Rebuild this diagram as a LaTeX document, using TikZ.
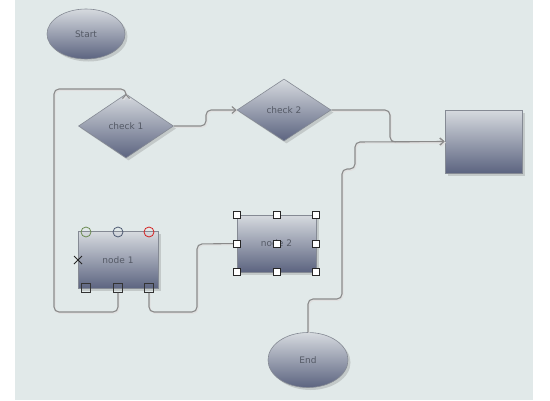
\documentclass[tikz,border=0pt]{standalone}
\usepackage{fontspec}
\setmainfont{DejaVu Sans}
\usetikzlibrary{shapes.geometric,shadows,arrows.meta}
\definecolor{bg}{HTML}{E1E9E9}
\definecolor{ntop}{HTML}{D6DADF}
\definecolor{nbot}{HTML}{5C6480}
\definecolor{nborder}{HTML}{858A94}
\definecolor{txt}{HTML}{555A66}
\definecolor{conncol}{HTML}{8A8A8A}
\definecolor{pgreen}{HTML}{6A8A50}
\definecolor{pslate}{HTML}{4E5A72}
\definecolor{pred}{HTML}{D42020}
\begin{document}
\begin{tikzpicture}[x=1pt,y=-1pt,
  shapenode/.style={top color=ntop,bottom color=nbot,draw=nborder,line width=0.6pt,
    text=txt,font=\fontsize{9}{11}\selectfont,inner sep=0pt,
    drop shadow={shadow xshift=2.5pt,shadow yshift=-2.5pt,opacity=0.3}},
  ellnode/.style={shapenode,ellipse},
  dianode/.style={shapenode,diamond},
  boxnode/.style={shapenode,rectangle},
  conn/.style={draw=conncol,line width=1.1pt,rounded corners=5pt,
    preaction={draw=black!12,line width=1.2pt,transform canvas={shift={(1pt,-1.2pt)}}}},
  arrowconn/.style={conn,-{Straight Barb[length=4pt,width=7pt]}},
  portsq/.style={draw=black!80,line width=0.7pt,rectangle,minimum size=9pt,inner sep=0pt},
  portci/.style={line width=0.8pt,circle,minimum size=10pt,inner sep=0pt},
  handle/.style={draw=black!85,fill=white,line width=0.6pt,rectangle,minimum size=7pt,inner sep=0pt}
]
\useasboundingbox (0,0) rectangle (550,400);
\fill[bg] (15,0) rectangle (533,400);

% nodes
\node[ellnode,minimum width=78pt,minimum height=50pt] (start) at (86,34) {Start};
\node[dianode,minimum width=95pt,minimum height=64pt] (c1) at (126,126) {check 1};
\node[dianode,minimum width=94pt,minimum height=62pt] (c2) at (284,110) {check 2};
\node[boxnode,minimum width=77pt,minimum height=63pt] (r) at (483.5,141.5) {};
\node[boxnode,minimum width=80pt,minimum height=57pt] (n1) at (118,260) {node 1};
\node[boxnode,minimum width=79pt,minimum height=57pt] (n2) at (276.5,243.5) {node 2};
\node[ellnode,minimum width=80pt,minimum height=55pt] (end) at (308,360) {End};

% ports of node 1
\node[portsq] (b1) at (86,288) {};
\node[portsq] (b2) at (118,288) {};
\node[portsq] (b3) at (149,288) {};
\node[portci,draw=pgreen] (t1) at (86,232) {};
\node[portci,draw=pslate] (t2) at (118,232) {};
\node[portci,draw=pred] (t3) at (149,232) {};
\draw[black!85,line width=0.8pt] (74,256) -- (82,264) (74,264) -- (82,256);

% connectors
\draw[arrowconn] (b2.south) -- (118,312) -- (54,312) -- (54,89) -- (126,89) -- (c1.north);
\draw[conn] (b3.south) -- (149,312) -- (197,312) -- (197,244) -- (n2.west);
\draw[arrowconn] (c1.east) -- (206,126) -- (206,110) -- (c2.west);
\draw[arrowconn] (c2.east) -- (390,110) -- (390,142) -- (r.west);
\draw[arrowconn] (end.north) -- (308,299) -- (342,299) -- (342,169) -- (355,169) -- (355,142) -- (r.west);

% selection handles of node 2
\foreach \hx/\hy/\hn in {237/215/h1,276.5/215/h2,316/215/h3,237/244/h4,276.5/244/h5,316/244/h6,237/272/h7,276.5/272/h8,316/272/h9}
  \node[handle] (\hn) at (\hx,\hy) {};
\end{tikzpicture}
\end{document}
